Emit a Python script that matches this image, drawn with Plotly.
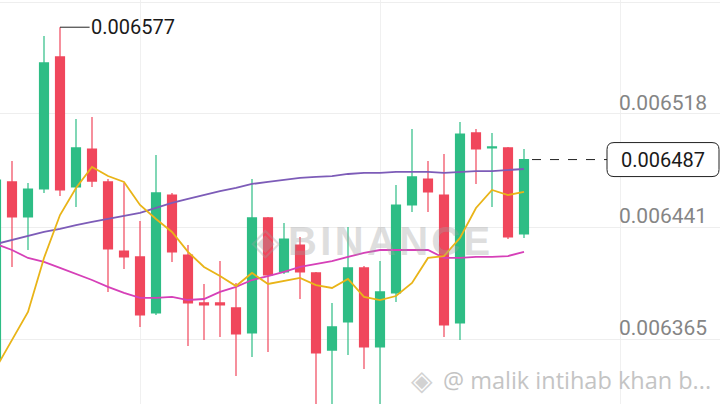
import plotly.graph_objects as go

# OHLC values (price units)
opens = [0.0063507, 0.0064718, 0.0064480, 0.0064670, 0.0065568, 0.0064684, 0.0064942,
         0.0064718, 0.0064248, 0.0064208, 0.0063827, 0.0064629, 0.0064221, 0.0063895,
         0.0063895, 0.0063861, 0.0063691, 0.0064473, 0.0064106, 0.0064289, 0.0064099,
         0.0063575, 0.0063766, 0.0064133, 0.0063596, 0.0063963, 0.0064561, 0.0064738,
         0.0064629, 0.0063759, 0.0065051, 0.0064949, 0.0064949, 0.0064364]
highs = [0.0064745, 0.0064860, 0.0064711, 0.0065710, 0.0065770, 0.0065146, 0.0065160,
         0.0064738, 0.0064711, 0.0064452, 0.0064901, 0.0064643, 0.0064289, 0.0064024,
         0.0064180, 0.0064031, 0.0064738, 0.0064480, 0.0064439, 0.0064344, 0.0064106,
         0.0063895, 0.0064412, 0.0064146, 0.0064180, 0.0064697, 0.0065078, 0.0064860,
         0.0064908, 0.0065126, 0.0065078, 0.0065051, 0.0064956, 0.0064942]
lows = [0.0063480, 0.0064140, 0.0064255, 0.0064643, 0.0064622, 0.0064548, 0.0064684,
        0.0063970, 0.0064126, 0.0063732, 0.0063813, 0.0064174, 0.0063602, 0.0063643,
        0.0063664, 0.0063398, 0.0063528, 0.0063562, 0.0064092, 0.0063922, 0.0063154,
        0.0063154, 0.0063541, 0.0063446, 0.0063154, 0.0063902, 0.0064514, 0.0064514,
        0.0063664, 0.0063643, 0.0064704, 0.0064548, 0.0064330, 0.0064337]
closes = [0.0064731, 0.0064480, 0.0064670, 0.0065527, 0.0064663, 0.0064949, 0.0064724,
          0.0064262, 0.0064208, 0.0063813, 0.0064643, 0.0064242, 0.0063895, 0.0063881,
          0.0063881, 0.0063684, 0.0064473, 0.0064085, 0.0064330, 0.0064106, 0.0063555,
          0.0063732, 0.0064133, 0.0063596, 0.0063970, 0.0064561, 0.0064752, 0.0064650,
          0.0063745, 0.0065044, 0.0064942, 0.0064956, 0.0064344, 0.0064870]

# moving averages
ma7 = [0.0063453, 0.0063643, 0.0063834, 0.0064201, 0.0064493, 0.0064677, 0.0064820,
       0.0064758, 0.0064718, 0.0064561, 0.0064466, 0.0064378, 0.0064242, 0.0064140,
       0.0064078, 0.0064010, 0.0064099, 0.0064024, 0.0064044, 0.0064065, 0.0064017,
       0.0063997, 0.0064058, 0.0063936, 0.0063915, 0.0063942, 0.0064031, 0.0064201,
       0.0064214, 0.0064337, 0.0064541, 0.0064663, 0.0064629, 0.0064650]
ma25 = [0.0064296, 0.0064255, 0.0064201, 0.0064174, 0.0064133, 0.0064092, 0.0064051,
        0.0064004, 0.0063963, 0.0063929, 0.0063929, 0.0063936, 0.0063915, 0.0063922,
        0.0063970, 0.0064004, 0.0064051, 0.0064078, 0.0064106, 0.0064140, 0.0064160,
        0.0064180, 0.0064208, 0.0064235, 0.0064255, 0.0064255, 0.0064255, 0.0064255,
        0.0064201, 0.0064201, 0.0064208, 0.0064208, 0.0064214, 0.0064242]
ma99 = [0.0064296, 0.0064323, 0.0064350, 0.0064378, 0.0064398, 0.0064425, 0.0064446,
        0.0064466, 0.0064486, 0.0064507, 0.0064541, 0.0064575, 0.0064602, 0.0064629,
        0.0064656, 0.0064677, 0.0064704, 0.0064718, 0.0064731, 0.0064745, 0.0064752,
        0.0064758, 0.0064772, 0.0064779, 0.0064779, 0.0064786, 0.0064786, 0.0064786,
        0.0064779, 0.0064786, 0.0064792, 0.0064792, 0.0064799, 0.0064806]

price_ticks = [0.006365, 0.006441, 0.006518, 0.006594]
price_labels = ["0.006365", "0.006441", "0.006518", ""]

x = list(range(len(opens)))

GREEN = "#2ebd85"
RED = "#f0475c"
W, H = 720, 404
Y_MIN, Y_MAX = 0.0063208, 0.0065955

fig = go.Figure()

fig.add_trace(
    go.Candlestick(
        x=x,
        open=opens,
        high=highs,
        low=lows,
        close=closes,
        increasing=dict(line=dict(color=GREEN, width=1.2), fillcolor=GREEN),
        decreasing=dict(line=dict(color=RED, width=1.2), fillcolor=RED),
        hoverinfo="skip",
    )
)

# moving averages
for vals, color in [(ma99, "#7d5cb8"), (ma25, "#d640b8"), (ma7, "#e9b418")]:
    fig.add_trace(
        go.Scatter(x=x, y=vals, mode="lines",
                   line=dict(color=color, width=1.8), hoverinfo="skip")
    )

annotations = []

# price labels sit just above their grid lines
for v, lab in zip(price_ticks, price_labels):
    if lab:
        annotations.append(dict(
            x=0.985, xref="paper", y=v, yref="y", text=lab,
            xanchor="right", yanchor="bottom", showarrow=False, yshift=-3,
            font=dict(family="Roboto", size=21, color="#858585"),
        ))

# highest high marker
ih = highs.index(max(highs))
fig.add_shape(type="line", xref="x", yref="y", x0=ih, x1=ih + 1.85,
              y0=max(highs), y1=max(highs), line=dict(color="#222222", width=1))
annotations.append(dict(
    x=ih + 1.85, y=max(highs), xref="x", yref="y", text=f"{max(highs):.6f}",
    xanchor="left", yanchor="middle", showarrow=False, xshift=-1,
    font=dict(family="Roboto", size=20, color="#1a1a1a"),
))

# last price line and rounded label box
last = closes[-1]
fig.add_shape(type="line", xref="x", yref="y", x0=x[-1] + 0.5, x1=38.2,
              y0=last, y1=last, line=dict(color="#222222", width=1, dash="dash"))


def py(price):
    return (price - Y_MIN) / (Y_MAX - Y_MIN)


bx0, bx1 = 607 / W, 719 / W
by0, by1 = py(last) - 17 / H, py(last) + 17 / H
rx, ry = 7 / W, 7 / H
path = (f"M {bx0 + rx},{by0} L {bx1 - rx},{by0} Q {bx1},{by0} {bx1},{by0 + ry} "
        f"L {bx1},{by1 - ry} Q {bx1},{by1} {bx1 - rx},{by1} "
        f"L {bx0 + rx},{by1} Q {bx0},{by1} {bx0},{by1 - ry} "
        f"L {bx0},{by0 + ry} Q {bx0},{by0} {bx0 + rx},{by0} Z")
fig.add_shape(type="path", xref="paper", yref="paper", path=path,
              fillcolor="white", line=dict(color="#222222", width=1))
annotations.append(dict(
    x=(bx0 + bx1) / 2, xref="paper", y=last, yref="y", text=f"{last:.6f}",
    xanchor="center", yanchor="middle", showarrow=False,
    font=dict(family="Roboto", size=20, color="#1a1a1a"),
))

# watermarks
hair = "\u200a"
annotations.append(dict(
    x=389 / W, y=1 - 241 / H, xref="paper", yref="paper",
    text=hair.join("BINANCE"),
    showarrow=False, xanchor="center", yanchor="middle",
    font=dict(family="Liberation Sans", size=40, color="rgba(160,160,160,0.35)", weight="bold"),
))
annotations.append(dict(
    x=266 / W, y=1 - 241 / H, xref="paper", yref="paper", text="◈",
    showarrow=False, xanchor="center", yanchor="middle",
    font=dict(family="DejaVu Sans", size=38, color="rgba(160,160,160,0.35)"),
))
annotations.append(dict(
    x=422 / W, y=1 - 380 / H, xref="paper", yref="paper", text="◈",
    showarrow=False, xanchor="center", yanchor="middle",
    font=dict(family="DejaVu Sans", size=28, color="#d2d2d2"),
))
annotations.append(dict(
    x=713 / W, y=1 - 380 / H, xref="paper", yref="paper",
    text="@ malik intihab khan b...",
    showarrow=False, xanchor="right", yanchor="middle",
    font=dict(family="Open Sans", size=23.5, color="#c4c4c4"),
))

fig.update_layout(
    width=W,
    height=H,
    margin=dict(l=0, r=0, t=0, b=0),
    paper_bgcolor="white",
    plot_bgcolor="white",
    showlegend=False,
    boxgap=0.2,
    xaxis=dict(
        range=[0.25, 45.25],
        rangeslider=dict(visible=False),
        tickvals=[9, 24, 39],
        showticklabels=False,
        showgrid=True,
        gridcolor="#f0f0f0",
        gridwidth=1,
        zeroline=False,
        showline=False,
    ),
    yaxis=dict(
        range=[Y_MIN, Y_MAX],
        tickvals=price_ticks,
        showticklabels=False,
        showgrid=True,
        gridcolor="#eeeeee",
        gridwidth=1,
        zeroline=False,
        showline=False,
    ),
    annotations=annotations,
)

# the page's default body margin would push the figure 8px off the window
fig.write_html(
    "out.html",
    config={"displayModeBar": False},
    post_script="document.body.style.margin='0';",
)
